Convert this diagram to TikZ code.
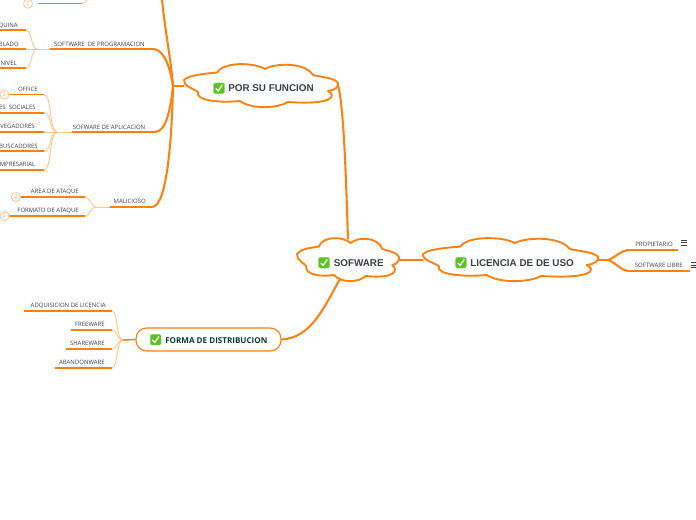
\documentclass[tikz,border=0pt]{standalone}
\usepackage{fontspec}
\setmainfont{Open Sans}
\newfontfamily\headfont{Liberation Sans}
\definecolor{mainor}{HTML}{FF7F0F}
\definecolor{lightor}{HTML}{FFC78F}
\definecolor{numor}{HTML}{FFA85C}
\definecolor{headtxt}{HTML}{3C4148}
\definecolor{labtxt}{HTML}{404040}
\definecolor{formatxt}{HTML}{0B3D2E}
\definecolor{okgreen}{HTML}{58C322}
\tikzset{
 main/.style={draw=mainor,line width=1.55pt,line cap=round},
 sub/.style={draw=mainor,line width=1.15pt},
 thin/.style={draw=lightor,line width=.7pt},
 lab/.style={font=\fontsize{4.5}{5}\selectfont,text=labtxt,inner sep=0pt,anchor=mid east},
 head/.style={font=\headfont\bfseries\fontsize{7.4}{9}\selectfont,text=headtxt,inner sep=0pt,anchor=mid west},
 anchorbox/.style={inner sep=0pt,minimum width=#1*.75pt,minimum height=31.5pt},
 numdot/.style={circle,draw=lightor,line width=.6pt,fill=white,minimum size=6.8pt,inner sep=0pt,font=\fontsize{4}{4}\selectfont,text=numor},
 okbox/.style={rounded corners=1pt,fill=okgreen,draw=okgreen!70!white,line width=.3pt,minimum size=8pt,inner sep=0pt},
 menu/.style={draw=labtxt,line width=.6pt}
}
\newcommand{\cloudshape}[2]{% center, xscale
 \begin{scope}[shift={(#1)},xscale=#2]
 \draw[draw=mainor,line width=1.4pt,fill=white,line join=round]
 (-77,-6) .. controls (-72,-11) and (-58,-12) .. (-44,-13.5)
 .. controls (-38,-24) and (-8,-24) .. (4,-17)
 .. controls (14,-23) and (44,-24) .. (52,-11)
 .. controls (60,-9) and (74,-8) .. (77,-3)
 .. controls (78,1) and (74,4) .. (67,5)
 .. controls (76,10) and (72,19) .. (27,16)
 .. controls (15,23) and (-10,23) .. (-21,15)
 .. controls (-40,17) and (-66,15) .. (-63,6)
 .. controls (-67,3) and (-78,0) .. cycle;
 \end{scope}}
\newcommand{\okmark}[1]{%
 \node[okbox] (ok#1) at (#1) {};
 \draw[white,line width=.95pt,line cap=round,line join=round]
 ([shift={(-3,.3)}]#1) -- ([shift={(-.8,2.8)}]#1) -- ([shift={(3,-3)}]#1);}
\newcommand{\menuicon}[1]{%
 \draw[menu] ([shift={(-3,-2.5)}]#1) -- ([shift={(3,-2.5)}]#1);
 \draw[menu] ([shift={(-3,0)}]#1) -- ([shift={(3,0)}]#1);
 \draw[menu] ([shift={(-3,2.5)}]#1) -- ([shift={(3,2.5)}]#1);}
\begin{document}
\begin{tikzpicture}[x=.75pt,y=-.75pt]
\useasboundingbox (0,0) rectangle (696,520);
% anchors of the big nodes
\node[anchorbox=154] (porsu) at (261,86) {};
\node[anchorbox=102] (sof) at (348,260) {};
\node[anchorbox=175] (lic) at (510.5,260) {};
% junction and free points
\coordinate (jp) at (173,86);
\coordinate (top) at (162,0);
\coordinate (jprog) at (37,49);
\coordinate (japl) at (57,132);
\coordinate (jmal) at (97,207);
\coordinate (jlic) at (608,260);
\coordinate (jfor) at (123,340);
\coordinate (prog1) at (153,49);
\coordinate (apl1) at (155,132);
\coordinate (mal1) at (152,207);
\coordinate (prop1) at (630,250);
\coordinate (soft1) at (630,271);
% main connectors
\draw[main] (sof.north) .. controls (346,180) and (344,110) .. (porsu.east);
\draw[main] (jp) -- (porsu.west);
\draw[main] (top) .. controls (165,30) and (171,60) .. (jp);
\draw[main] (jp) .. controls (170,65) and (163,49) .. (prog1);
\draw[sub] (prog1) -- (50,49);
\draw[main] (jp) .. controls (171,105) and (167,132) .. (apl1);
\draw[sub] (apl1) -- (72,132);
\draw[main] (jp) .. controls (172,130) and (168,207) .. (mal1);
\draw[sub] (mal1) -- (110,207);
\draw[main] (sof.east) -- (lic.west);
\draw[main] (lic.east) -- (jlic);
\draw[main] (jlic) .. controls (617,257) and (620,250) .. (prop1);
\draw[sub] (prop1) -- (678,250);
\draw[main] (jlic) .. controls (617,263) and (620,271) .. (soft1);
\draw[sub] (soft1) -- (690,271);
% clouds
\cloudshape{261,86}{1}
\cloudshape{348,260}{.662}
\cloudshape{510.5,260}{1.136}
% forma node
\node[draw=mainor,line width=.85pt,rounded corners=8pt,minimum width=108.75pt,minimum height=17.25pt,inner sep=0pt,fill=white] (forma) at (208.5,339.5) {};
\draw[main] (forma.east) .. controls (312,338) and (325,305) .. (340,279);
\draw[sub] (jfor) -- (forma.west);
% thin connectors, programacion
\draw[thin] (26,30) .. controls (32,30) and (31,49) .. (jprog);
\draw[thin] (26,49) -- (jprog);
\draw[thin] (26,68) .. controls (32,68) and (31,49) .. (jprog);
\draw[thin] (jprog) -- (50,49);
% aplicacion
\draw[thin] (44,94.5) .. controls (52,94.5) and (49,132) .. (japl);
\draw[thin] (44,113) .. controls (52,113) and (49,132) .. (japl);
\draw[thin] (44,132) -- (japl);
\draw[thin] (44,151) .. controls (52,151) and (49,132) .. (japl);
\draw[thin] (44,170) .. controls (52,170) and (49,132) .. (japl);
\draw[thin] (japl) -- (72,132);
% malicioso
\draw[thin] (85,197) .. controls (90,197) and (90,207) .. (jmal);
\draw[thin] (85,216) .. controls (90,216) and (90,207) .. (jmal);
\draw[thin] (jmal) -- (110,207);
% top stub
\draw[thin] (82,3.5) .. controls (84,3.5) and (85,2) .. (87,0);
% forma children
\draw[thin] (112,311) .. controls (118,311) and (116,340) .. (jfor);
\draw[thin] (112,330) .. controls (118,330) and (116,340) .. (jfor);
\draw[thin] (112,349) .. controls (118,349) and (116,340) .. (jfor);
\draw[thin] (112,368) .. controls (118,368) and (116,340) .. (jfor);
% underlines
\draw[sub] (38,3.5) -- (82,3.5);
\draw[sub] (0,30) -- (26,30);
\draw[sub] (0,49) -- (26,49);
\draw[sub] (0,68) -- (26,68);
\draw[sub] (9,94.5) -- (44,94.5);
\foreach \yy in {113,132,151,170} \draw[sub] (0,\yy) -- (44,\yy);
\draw[sub] (21,197) -- (85,197);
\draw[sub] (9,216) -- (85,216);
\draw[sub] (24,311) -- (112,311);
\draw[sub] (71,330) -- (112,330);
\draw[sub] (66,349) -- (112,349);
\draw[sub] (55,368) -- (112,368);
% numbered dots
\node[numdot] (d0) at (28,3.7) {2};
\node[numdot] (d1) at (4.5,94.5) {2};
\node[numdot] (d2) at (16,197) {2};
\node[numdot] (d3) at (4.5,216) {2};
% head labels
\node[head] (tporsu) at (228,88.3) {POR SU FUNCION};
\node[head] (tsof) at (333.5,262.7) {SOFWARE};
\node[head] (tlic) at (470,262.7) {LICENCIA DE DE USO};
\node[head,font=\bfseries\fontsize{6.05}{7}\selectfont,text=formatxt] (tforma) at (165,339.7) {FORMA DE DISTRIBUCION};
\okmark{219,88.3}
\okmark{324,262.7}
\okmark{461,262.7}
\okmark{155.7,339.7}
% labels
\node[lab] (l1) at (145,42.5) {SOFTWARE\ \ DE PROGRAMACION};
\node[lab] (l2) at (18,23.5) {QUINA};
\node[lab] (l3) at (19,42.5) {BLADO};
\node[lab] (l4) at (17,61.5) {NIVEL};
\node[lab] (l5) at (38,87.5) {OFFICE};
\node[lab] (l6) at (36,106) {ES\ \ SOCIALES};
\node[lab] (l7) at (35,125) {VEGADORES};
\node[lab] (l8) at (38,144.5) {BUSCADORES};
\node[lab] (l9) at (35.5,163) {MPRESARIAL};
\node[lab] (l10) at (145.5,125.5) {SOFWARE DE APLICACION};
\node[lab] (l11) at (146,199.5) {MALICIOSO};
\node[lab] (l12) at (79,190) {AREA DE ATAQUE};
\node[lab] (l13) at (79,209) {FORMATO DE ATAQUE};
\node[lab] (l14) at (673,242.5) {PROPIETARIO};
\node[lab] (l15) at (683,264) {SOFTWARE LIBRE};
\node[lab] (l16) at (106,304) {ADQUISICION DE LICENCIA};
\node[lab] (l17) at (105,323) {FREEWARE};
\node[lab] (l18) at (105,342) {SHAREWARE};
\node[lab] (l19) at (105,361) {ABANDONWARE};
\menuicon{684,242.5}
\menuicon{694,265}
\end{tikzpicture}
\end{document}
